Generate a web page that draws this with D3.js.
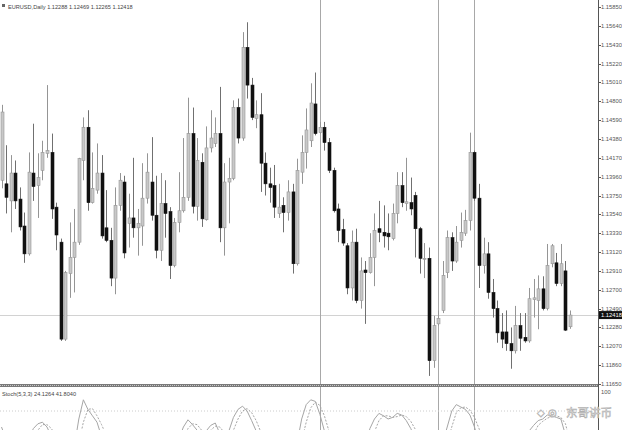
<!DOCTYPE html>
<html>
<head>
<meta charset="utf-8">
<script src="https://cdn.jsdelivr.net/npm/d3@7"></script>
<style>
  body { margin: 0; background: #fff; }
  svg { display: block; }
</style>
</head>
<body>
<div id="chart"></div>
<script>
// EURUSD daily candles
var opens = [
  1.1392, 1.1388, 1.1369, 1.1400, 1.1371, 1.1341, 1.1310, 1.1400, 1.1386, 1.1403,
  1.1422, 1.1423, 1.1362, 1.1323, 1.1215, 1.1288, 1.1306, 1.1323, 1.1414, 1.1451,
  1.1367, 1.1381, 1.1400, 1.1339, 1.1325, 1.1283, 1.1364, 1.1390, 1.1344, 1.1350,
  1.1339, 1.1341, 1.1372, 1.1390, 1.1353, 1.1314, 1.1366, 1.1357, 1.1297, 1.1345,
  1.1358, 1.1373, 1.1444, 1.1363, 1.1412, 1.1348, 1.1428, 1.1433, 1.1444, 1.1339,
  1.1390, 1.1394, 1.1473, 1.1439, 1.1540, 1.1498, 1.1461, 1.1465, 1.1411, 1.1388,
  1.1386, 1.1355, 1.1364, 1.1356, 1.1379, 1.1299, 1.1401, 1.1423, 1.1436, 1.1477,
  1.1445, 1.1451, 1.1434, 1.1403, 1.1360, 1.1337, 1.1319, 1.1272, 1.1323, 1.1258,
  1.1292, 1.1289, 1.1306, 1.1338, 1.1334, 1.1333, 1.1327, 1.1355, 1.1386, 1.1366,
  1.1367, 1.1375, 1.1338, 1.1304, 1.1305, 1.1191, 1.1232, 1.1247, 1.1289, 1.1328,
  1.1302, 1.1325, 1.1333, 1.1347, 1.1423, 1.1372, 1.1297, 1.1310, 1.1267, 1.1249,
  1.1223, 1.1223, 1.1210, 1.1202, 1.1230, 1.1217, 1.1213, 1.1259, 1.1258, 1.1271,
  1.1249, 1.1299, 1.1300, 1.1277, 1.1291, 1.12288
];
var highs = [
  1.1476, 1.1431, 1.1420, 1.1414, 1.1384, 1.1356, 1.1423, 1.1455, 1.1422, 1.1436,
  1.1498, 1.1444, 1.1367, 1.1327, 1.1291, 1.1345, 1.1360, 1.1417, 1.1462, 1.1470,
  1.1423, 1.1433, 1.1420, 1.1381, 1.1339, 1.1384, 1.1400, 1.1397, 1.1377, 1.1417,
  1.1360, 1.1411, 1.1422, 1.1440, 1.1397, 1.1400, 1.1392, 1.1362, 1.1350, 1.1401,
  1.1439, 1.1484, 1.1473, 1.1439, 1.1422, 1.1452, 1.1470, 1.1462, 1.1496, 1.1411,
  1.1417, 1.1481, 1.1483, 1.1557, 1.1568, 1.1506, 1.1481, 1.1489, 1.1423, 1.1406,
  1.1409, 1.1388, 1.1373, 1.1392, 1.1388, 1.1416, 1.1442, 1.1472, 1.1500, 1.1512,
  1.1457, 1.1457, 1.1439, 1.1406, 1.1366, 1.1349, 1.1322, 1.1336, 1.1338, 1.1306,
  1.1302, 1.1333, 1.1355, 1.1369, 1.1364, 1.1355, 1.1366, 1.1401, 1.1401, 1.1417,
  1.1395, 1.1379, 1.1340, 1.1322, 1.1317, 1.1241, 1.1247, 1.1302, 1.1336, 1.1334,
  1.1341, 1.1356, 1.1359, 1.1445, 1.1425, 1.1388, 1.1328, 1.1323, 1.1282, 1.1258,
  1.1244, 1.1247, 1.1228, 1.1252, 1.1244, 1.1244, 1.1272, 1.1282, 1.1286, 1.1285,
  1.1321, 1.1321, 1.1311, 1.1321, 1.1302, 1.12469
];
var lows = [
  1.1383, 1.1355, 1.1334, 1.1360, 1.1336, 1.1300, 1.1308, 1.1369, 1.1350, 1.1392,
  1.1417, 1.1349, 1.1314, 1.1213, 1.1213, 1.1261, 1.1267, 1.1320, 1.1392, 1.1358,
  1.1366, 1.1377, 1.1327, 1.1323, 1.1274, 1.1265, 1.1358, 1.1305, 1.1317, 1.1328,
  1.1308, 1.1319, 1.1366, 1.1347, 1.1305, 1.1302, 1.1328, 1.1282, 1.1295, 1.1334,
  1.1356, 1.1369, 1.1355, 1.1347, 1.1340, 1.1347, 1.1423, 1.1429, 1.1323, 1.1308,
  1.1344, 1.1392, 1.1433, 1.1436, 1.1483, 1.1459, 1.1450, 1.1379, 1.1375, 1.1367,
  1.1350, 1.1350, 1.1334, 1.1347, 1.1288, 1.1297, 1.1388, 1.1405, 1.1429, 1.1442,
  1.1444, 1.1425, 1.1400, 1.1356, 1.1323, 1.1319, 1.1265, 1.1258, 1.1255, 1.1249,
  1.1232, 1.1288, 1.1274, 1.1323, 1.1317, 1.1314, 1.1325, 1.1344, 1.1362, 1.1358,
  1.1353, 1.1306, 1.1288, 1.1283, 1.1174, 1.1183, 1.1230, 1.1244, 1.1283, 1.1291,
  1.1300, 1.1317, 1.1330, 1.1336, 1.1369, 1.1272, 1.1288, 1.1260, 1.1239, 1.1211,
  1.1205, 1.1202, 1.1182, 1.1199, 1.1202, 1.1211, 1.1211, 1.1239, 1.1226, 1.1247,
  1.1247, 1.1295, 1.1274, 1.1274, 1.1224, 1.12265
];
var closes = [
  1.1468, 1.1373, 1.1400, 1.1369, 1.1340, 1.1310, 1.1401, 1.1385, 1.1395, 1.1423,
  1.1425, 1.1360, 1.1331, 1.1215, 1.1289, 1.1306, 1.1323, 1.1416, 1.1451, 1.1367,
  1.1383, 1.1400, 1.1330, 1.1325, 1.1283, 1.1364, 1.1392, 1.1311, 1.1350, 1.1339,
  1.1344, 1.1372, 1.1401, 1.1353, 1.1314, 1.1366, 1.1355, 1.1297, 1.1345, 1.1358,
  1.1373, 1.1444, 1.1363, 1.1414, 1.1349, 1.1428, 1.1439, 1.1444, 1.1339, 1.1390,
  1.1394, 1.1473, 1.1439, 1.1540, 1.1498, 1.1462, 1.1465, 1.1411, 1.1388, 1.1384,
  1.1362, 1.1362, 1.1356, 1.1379, 1.1299, 1.1403, 1.1423, 1.1448, 1.1478, 1.1444,
  1.1451, 1.1434, 1.1403, 1.1358, 1.1336, 1.1322, 1.1272, 1.1323, 1.1258, 1.1291,
  1.1289, 1.1306, 1.1336, 1.1334, 1.1330, 1.1329, 1.1355, 1.1386, 1.1367, 1.1368,
  1.1360, 1.1338, 1.1305, 1.1305, 1.1191, 1.1230, 1.1238, 1.1286, 1.1328, 1.1302,
  1.1323, 1.1334, 1.1347, 1.1423, 1.1372, 1.1297, 1.1310, 1.1267, 1.1249, 1.1222,
  1.1215, 1.1210, 1.1202, 1.1230, 1.1216, 1.1213, 1.1260, 1.1261, 1.1271, 1.1249,
  1.1297, 1.1319, 1.1277, 1.1299, 1.1225, 1.12418
];

// Stochastic (5,3,3) main and signal
var stochK = [
  60, 45, 50, 40, 22, 10, 45, 58, 64, 66, 60, 48, 30, 12, 10, 15, 35, 70, 94, 82,
  74, 66, 48, 35, 20, 28, 40, 38, 35, 40, 38, 45, 50, 45, 35, 38, 40, 30, 32, 45,
  60, 69, 63, 56, 50, 55, 62, 65, 52, 42, 55, 72, 82, 86, 80, 68, 55, 38, 25, 18,
  15, 12, 14, 20, 18, 40, 70, 88, 94, 92, 76, 55, 35, 18, 8, 6, 5, 12, 15, 25,
  35, 58, 70, 77, 74, 70, 72, 77, 75, 68, 58, 45, 25, 15, 8, 12, 20, 40, 60, 80,
  88, 85, 82, 75, 60, 40, 25, 15, 10, 8, 10, 12, 10, 20, 30, 35, 55, 62, 68, 70,
  75, 74, 72, 70, 50, 24.1264
];
var stochD = [
  55, 52, 50, 45, 37, 24, 26, 38, 56, 63, 63, 58, 46, 30, 17, 12, 20, 40, 66, 82,
  83, 74, 63, 50, 34, 28, 29, 35, 38, 38, 38, 41, 44, 47, 43, 39, 38, 36, 34, 36,
  46, 58, 64, 63, 56, 54, 56, 61, 60, 53, 50, 56, 70, 80, 83, 78, 68, 54, 39, 27,
  19, 15, 14, 15, 17, 26, 43, 66, 84, 91, 87, 74, 55, 36, 20, 11, 6, 8, 11, 17,
  25, 39, 54, 68, 74, 74, 72, 73, 75, 73, 67, 57, 43, 28, 16, 12, 13, 24, 40, 60,
  78, 84, 85, 81, 72, 58, 42, 27, 17, 11, 9, 10, 11, 14, 20, 28, 40, 51, 62, 67,
  71, 73, 74, 72, 64, 41.8040
];

var priceTicks = [
  1.15850, 1.15640, 1.15430, 1.15220, 1.15010, 1.14800, 1.14590, 1.14380, 1.14170,
  1.13960, 1.13750, 1.13540, 1.13330, 1.13120, 1.12910, 1.12700, 1.12490, 1.12280,
  1.12070, 1.11860, 1.11650
];
var markerBars = [70, 96, 104];   // vertical lines
var stochLevels = [80, 20];
var headerText = "EURUSD,Daily  1.12288 1.12469 1.12265 1.12418";
var stochText = "Stoch(5,3,3) 24.1264 41.8040";
var watermark = "东哥讲币";

var width = 622, height = 430;
var plotRight = 598, mainBottom = 384, subTop = 388;

var svg = d3.select("#chart").append("svg")
  .attr("width", width).attr("height", height)
  .style("font-family", "'Liberation Sans', Arial, sans-serif");

svg.append("rect").attr("width", width).attr("height", height).attr("fill", "#fff");

var n = closes.length;
var x = d3.scaleLinear().domain([0, n - 1]).range([1.5, 570]);
var y = d3.scaleLinear().domain([1.1165, 1.1585]).range([384, 7]);
var ys = d3.scaleLinear().domain([0, 100]).range([475, 395]);

var defs = svg.append("defs");
defs.append("clipPath").attr("id", "clipMain")
  .append("rect").attr("x", 0).attr("y", 0).attr("width", plotRight).attr("height", mainBottom);
defs.append("clipPath").attr("id", "clipSub")
  .append("rect").attr("x", 0).attr("y", subTop).attr("width", plotRight).attr("height", height - subTop);

// last price line
svg.append("line")
  .attr("x1", 0).attr("x2", plotRight)
  .attr("y1", Math.round(y(closes[n - 1])) + 0.5).attr("y2", Math.round(y(closes[n - 1])) + 0.5)
  .attr("stroke", "#d2d2d2").attr("stroke-width", 1);

// vertical marker lines through both panels
svg.append("g").selectAll("line")
  .data(markerBars)
  .join("line")
  .attr("x1", d => Math.round(x(d)) + 0.5)
  .attr("x2", d => Math.round(x(d)) + 0.5)
  .attr("y1", 0).attr("y2", height)
  .attr("stroke", "#a8a8a8").attr("stroke-width", 1);

// candles
var bars = d3.range(n).map(function(i) {
  return { i: i, o: opens[i], h: highs[i], l: lows[i], c: closes[i] };
});

var candles = svg.append("g").attr("clip-path", "url(#clipMain)");

candles.selectAll("line.wick")
  .data(bars)
  .join("line")
  .attr("class", "wick")
  .attr("x1", d => Math.round(x(d.i)) + 0.5)
  .attr("x2", d => Math.round(x(d.i)) + 0.5)
  .attr("y1", d => y(d.h))
  .attr("y2", d => y(d.l))
  .attr("stroke", d => d.c >= d.o ? "#959595" : "#707070")
  .attr("stroke-width", 1);

candles.selectAll("rect.body")
  .data(bars)
  .join("rect")
  .attr("class", "body")
  .attr("x", d => Math.round(x(d.i)) - 1)
  .attr("width", 3)
  .attr("y", d => y(Math.max(d.o, d.c)))
  .attr("height", d => Math.max(1, Math.abs(y(d.o) - y(d.c))))
  .attr("fill", d => d.c >= d.o ? "#c8c8c8" : "#111")
  .attr("stroke", d => d.c >= d.o ? "#959595" : "#111")
  .attr("stroke-width", 0.6);

// header
svg.append("rect").attr("x", 2).attr("y", 4).attr("width", 3).attr("height", 3).attr("fill", "#666");
svg.append("text").attr("x", 8).attr("y", 9)
  .attr("font-size", 5.6).attr("fill", "#444").text(headerText);

// separator between panels
svg.append("rect").attr("x", 0).attr("y", mainBottom).attr("width", plotRight).attr("height", 3)
  .attr("fill", "#7a7a7a");
svg.append("line").attr("x1", 0).attr("x2", plotRight).attr("y1", mainBottom + 1.5).attr("y2", mainBottom + 1.5)
  .attr("stroke", "#c8c8c8").attr("stroke-width", 1).attr("stroke-dasharray", "1,1");

// stochastic panel
var sub = svg.append("g").attr("clip-path", "url(#clipSub)");

sub.selectAll("line.level")
  .data(stochLevels)
  .join("line")
  .attr("class", "level")
  .attr("x1", 0).attr("x2", plotRight)
  .attr("y1", d => ys(d)).attr("y2", d => ys(d))
  .attr("stroke", "#cccccc").attr("stroke-dasharray", "1,2");

var kLine = d3.line().x((d, i) => x(i)).y(d => ys(d));
sub.append("path").datum(stochK)
  .attr("d", kLine).attr("fill", "none")
  .attr("stroke", "#a6a6a6").attr("stroke-width", 1);
sub.append("path").datum(stochD)
  .attr("d", kLine).attr("fill", "none")
  .attr("stroke", "#a6a6a6").attr("stroke-width", 1).attr("stroke-dasharray", "2,1.5");

svg.append("text").attr("x", 2).attr("y", 396)
  .attr("font-size", 5.6).attr("fill", "#444").text(stochText);

// price axis
svg.append("line").attr("x1", plotRight + 0.5).attr("x2", plotRight + 0.5)
  .attr("y1", 0).attr("y2", height).attr("stroke", "#555");

var axis = svg.append("g");
axis.selectAll("line")
  .data(priceTicks)
  .join("line")
  .attr("x1", plotRight).attr("x2", plotRight + 3)
  .attr("y1", d => Math.round(y(d)) + 0.5).attr("y2", d => Math.round(y(d)) + 0.5)
  .attr("stroke", "#555");
axis.selectAll("text")
  .data(priceTicks)
  .join("text")
  .attr("x", plotRight + 3)
  .attr("y", d => y(d) + 2)
  .attr("font-size", 5.8).attr("fill", "#555")
  .text(d => d.toFixed(5));

// current price box
var yl = y(closes[n - 1]);
svg.append("rect").attr("x", plotRight + 1).attr("y", yl - 4).attr("width", width - plotRight).attr("height", 8)
  .attr("fill", "#111");
svg.append("text").attr("x", plotRight + 3).attr("y", yl + 2)
  .attr("font-size", 5.8).attr("fill", "#fff").text(closes[n - 1].toFixed(5));

svg.append("text").attr("x", plotRight + 3).attr("y", 394)
  .attr("font-size", 5.8).attr("fill", "#555").text("100");

// watermark
svg.append("text").attr("x", 537).attr("y", 416)
  .attr("font-size", 10).attr("fill", "#fff").attr("stroke", "#b8b8b8").attr("stroke-width", 0.6)
  .text("◇ ◎");
svg.append("text").attr("x", 566).attr("y", 417)
  .attr("font-size", 11.5).attr("fill", "#fff").attr("stroke", "#b0b0b0").attr("stroke-width", 0.6)
  .style("font-family", "'Noto Sans CJK SC', sans-serif")
  .text(watermark);
</script>
</body>
</html>
